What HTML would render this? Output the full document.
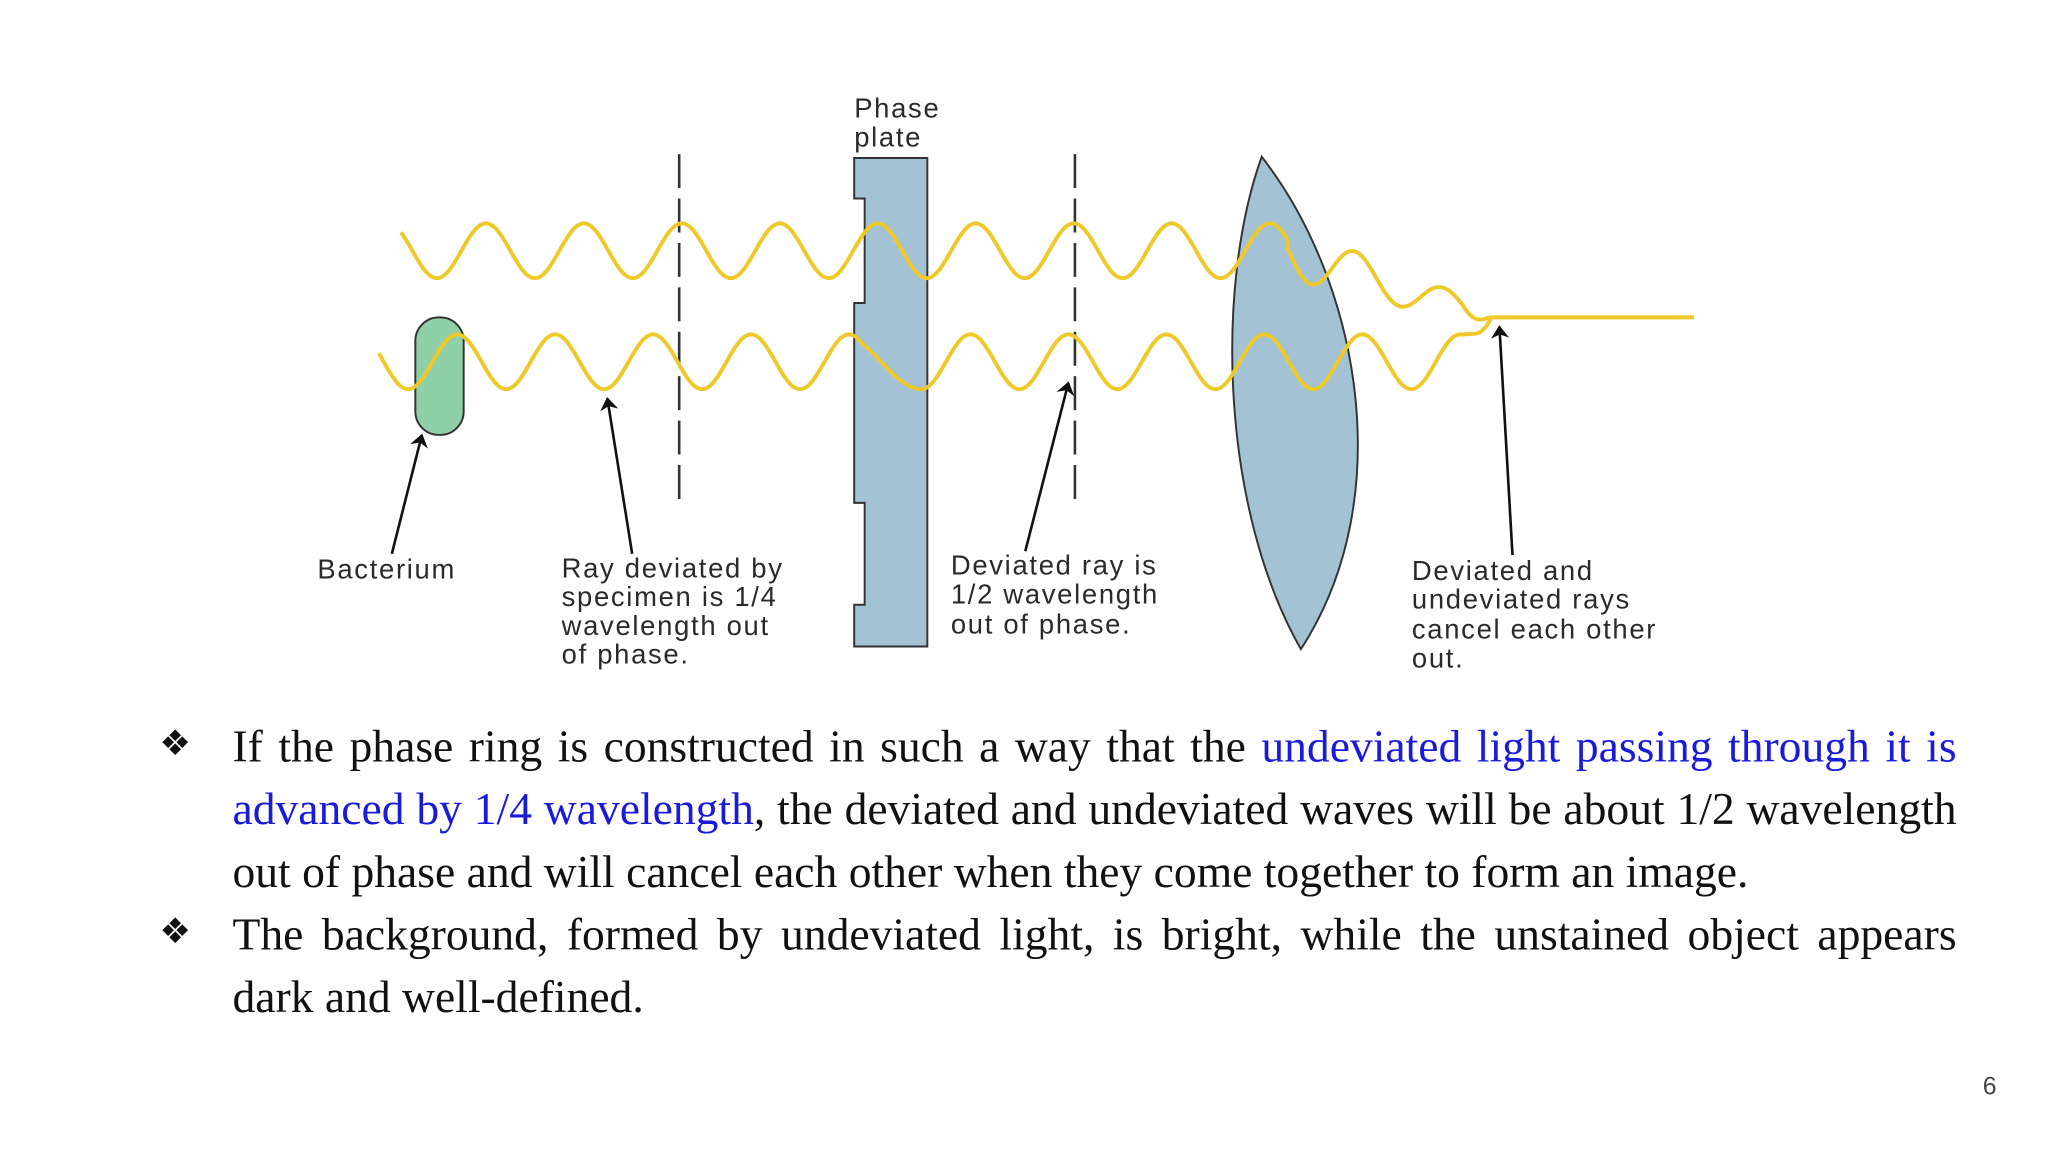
<!DOCTYPE html>
<html><head><meta charset="utf-8"><style>
html,body{margin:0;padding:0;background:#fff;}
#w{position:absolute;left:0;top:0;width:1568px;height:882px;transform:scale(1.30612);transform-origin:0 0;overflow:hidden;background:#fff;}
svg{position:absolute;left:0;top:0;}
.lbl{font-family:"Liberation Sans",sans-serif;font-size:21px;letter-spacing:1.3px;fill:#2a2a2a;}
.p{position:absolute;left:178px;width:1320px;font-family:"Liberation Serif",serif;font-size:34.9px;line-height:48px;text-align:justify;color:#111;}
.b{position:absolute;left:122px;font-family:"DejaVu Sans",sans-serif;font-size:27px;color:#111;}
.blue{color:#1a1adb;}
</style></head><body><div id="w">
<svg width="1568" height="882" viewBox="0 0 1568 882">
<defs><marker id="ah" markerWidth="10" markerHeight="14" refX="9" refY="7" orient="auto" markerUnits="userSpaceOnUse"><path d="M0,0 L10,7 L0,14 L3,7 Z" fill="#111"/></marker></defs>
<line x1="520" y1="118" x2="520" y2="385" stroke="#333" stroke-width="2" stroke-dasharray="26,8"/>
<line x1="823" y1="118" x2="823" y2="385" stroke="#333" stroke-width="2" stroke-dasharray="26,8"/>
<path d="M654,121 L710,121 L710,495 L654,495 L654,463 L662,463 L662,385 L654,385 L654,232 L662,232 L662,152 L654,152 Z" fill="#a3c2d4" stroke="#333" stroke-width="1.5"/>
<path d="M966,120 C1040,215 1072,380 996,497 C935,390 930,220 966,120 Z" fill="#a3c2d4" stroke="#333" stroke-width="1.5"/>
<rect x="318" y="243" width="37" height="90" rx="18" fill="#8fd0a8" stroke="#333" stroke-width="1.5"/>
<path id="up" fill="none" stroke="#efc92a" stroke-width="3"/>
<path id="lo" fill="none" stroke="#efc92a" stroke-width="3"/>
<line x1="1140" y1="243" x2="1297" y2="243" stroke="#efc92a" stroke-width="3"/>
<g stroke="#111" stroke-width="2" marker-end="url(#ah)">
<line x1="300" y1="424" x2="323" y2="333"/>
<line x1="484" y1="424" x2="465" y2="305"/>
<line x1="785" y1="422" x2="818" y2="293"/>
<line x1="1158" y1="425" x2="1148" y2="250"/>
</g>
<text class="lbl" x="654" y="90">Phase</text><text class="lbl" x="654" y="112">plate</text>
<text class="lbl" x="243" y="443">Bacterium</text>
<text class="lbl" x="430" y="442">Ray deviated by</text><text class="lbl" x="430" y="464">specimen is 1/4</text><text class="lbl" x="430" y="486">wavelength out</text><text class="lbl" x="430" y="508">of phase.</text>
<text class="lbl" x="728" y="440">Deviated ray is</text><text class="lbl" x="728" y="462">1/2 wavelength</text><text class="lbl" x="728" y="485">out of phase.</text>
<text class="lbl" x="1081" y="444">Deviated and</text><text class="lbl" x="1081" y="466">undeviated rays</text><text class="lbl" x="1081" y="489">cancel each other</text><text class="lbl" x="1081" y="511">out.</text>
</svg>
<div class="b" style="top:554px">❖</div>
<div class="b" style="top:698px">❖</div>
<div class="p" style="top:548px">If the phase ring is constructed in such a way that the <span class="blue">undeviated light passing through it is advanced by 1/4 wavelength</span>, the deviated and undeviated waves will be about 1/2 wavelength out of phase and will cancel each other when they come together to form an image.</div>
<div class="p" style="top:692px">The background, formed by undeviated light, is bright, while the unstained object appears dark and well-defined.</div>
<div style="position:absolute;left:1518px;top:822px;font-family:'Liberation Sans',sans-serif;font-size:19px;color:#444;">6</div>
</div>
<script>
var P=75,T=2*Math.PI;
var d="";
for(var x=307;x<=1140;x+=1){
 var y;
 if(x<=985){y=192-21*Math.cos(T*(x-372)/P);}
 else{var f=(x-985)/(1140-985);var amp=21*(1-f*0.6);var c=192+f*51;y=c-amp*Math.cos(T*(x-970)/68);}
 if(x>1120){var g=(x-1120)/20;y=y*(1-g)+243*g;}
 d+=(x==307?"M":"L")+x+","+y.toFixed(1)+" ";
}
document.getElementById("up").setAttribute("d",d);
d="";
for(var x=290;x<=1142;x+=1){
 var ph;
 if(x<660)ph=425;else if(x>705)ph=443;else ph=425+(x-660)/45*18;
 var y=277-21*Math.cos(T*(x-ph)/P);
 if(x>1120){var g=(x-1120)/22;y=y*(1-g)+243*g;}
 d+=(x==290?"M":"L")+x+","+y.toFixed(1)+" ";
}
document.getElementById("lo").setAttribute("d",d);
</script>
</body></html>
